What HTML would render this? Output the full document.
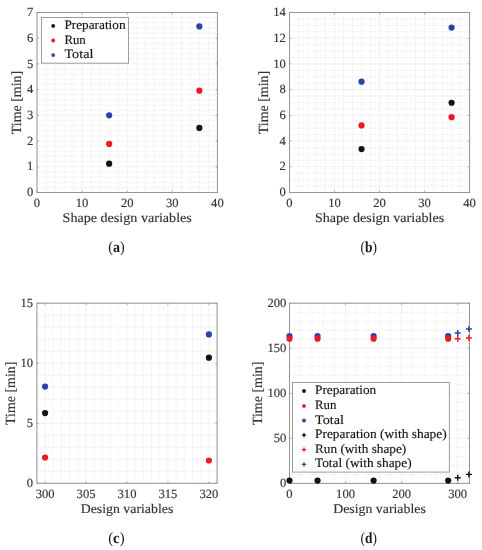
<!DOCTYPE html><html><head><meta charset="utf-8"><style>html,body{margin:0;padding:0;background:#fff;}svg{display:block;filter:blur(0.35px);}</style></head><body><svg width="482" height="550" viewBox="0 0 482 550" font-family='"Liberation Serif", "DejaVu Serif", serif'><style>text{stroke:currentColor;stroke-width:0.15px;text-rendering:geometricPrecision;}</style>
<rect width="482" height="550" fill="#fff"/>
<line x1="46.02" y1="12.5" x2="46.02" y2="192.5" stroke="#ececec" stroke-width="0.8" stroke-dasharray="1.2,0.8"/>
<line x1="55.04" y1="12.5" x2="55.04" y2="192.5" stroke="#ececec" stroke-width="0.8" stroke-dasharray="1.2,0.8"/>
<line x1="64.06" y1="12.5" x2="64.06" y2="192.5" stroke="#ececec" stroke-width="0.8" stroke-dasharray="1.2,0.8"/>
<line x1="73.08" y1="12.5" x2="73.08" y2="192.5" stroke="#ececec" stroke-width="0.8" stroke-dasharray="1.2,0.8"/>
<line x1="91.12" y1="12.5" x2="91.12" y2="192.5" stroke="#ececec" stroke-width="0.8" stroke-dasharray="1.2,0.8"/>
<line x1="100.14" y1="12.5" x2="100.14" y2="192.5" stroke="#ececec" stroke-width="0.8" stroke-dasharray="1.2,0.8"/>
<line x1="109.16" y1="12.5" x2="109.16" y2="192.5" stroke="#ececec" stroke-width="0.8" stroke-dasharray="1.2,0.8"/>
<line x1="118.18" y1="12.5" x2="118.18" y2="192.5" stroke="#ececec" stroke-width="0.8" stroke-dasharray="1.2,0.8"/>
<line x1="136.22" y1="12.5" x2="136.22" y2="192.5" stroke="#ececec" stroke-width="0.8" stroke-dasharray="1.2,0.8"/>
<line x1="145.24" y1="12.5" x2="145.24" y2="192.5" stroke="#ececec" stroke-width="0.8" stroke-dasharray="1.2,0.8"/>
<line x1="154.26" y1="12.5" x2="154.26" y2="192.5" stroke="#ececec" stroke-width="0.8" stroke-dasharray="1.2,0.8"/>
<line x1="163.28" y1="12.5" x2="163.28" y2="192.5" stroke="#ececec" stroke-width="0.8" stroke-dasharray="1.2,0.8"/>
<line x1="181.32" y1="12.5" x2="181.32" y2="192.5" stroke="#ececec" stroke-width="0.8" stroke-dasharray="1.2,0.8"/>
<line x1="190.34" y1="12.5" x2="190.34" y2="192.5" stroke="#ececec" stroke-width="0.8" stroke-dasharray="1.2,0.8"/>
<line x1="199.36" y1="12.5" x2="199.36" y2="192.5" stroke="#ececec" stroke-width="0.8" stroke-dasharray="1.2,0.8"/>
<line x1="208.38" y1="12.5" x2="208.38" y2="192.5" stroke="#ececec" stroke-width="0.8" stroke-dasharray="1.2,0.8"/>
<line x1="37" y1="187.36" x2="217.4" y2="187.36" stroke="#e2e2e2" stroke-width="0.8" stroke-dasharray="1,1.25"/>
<line x1="37" y1="182.21" x2="217.4" y2="182.21" stroke="#e2e2e2" stroke-width="0.8" stroke-dasharray="1,1.25"/>
<line x1="37" y1="177.07" x2="217.4" y2="177.07" stroke="#e2e2e2" stroke-width="0.8" stroke-dasharray="1,1.25"/>
<line x1="37" y1="171.93" x2="217.4" y2="171.93" stroke="#e2e2e2" stroke-width="0.8" stroke-dasharray="1,1.25"/>
<line x1="37" y1="161.64" x2="217.4" y2="161.64" stroke="#e2e2e2" stroke-width="0.8" stroke-dasharray="1,1.25"/>
<line x1="37" y1="156.50" x2="217.4" y2="156.50" stroke="#e2e2e2" stroke-width="0.8" stroke-dasharray="1,1.25"/>
<line x1="37" y1="151.36" x2="217.4" y2="151.36" stroke="#e2e2e2" stroke-width="0.8" stroke-dasharray="1,1.25"/>
<line x1="37" y1="146.21" x2="217.4" y2="146.21" stroke="#e2e2e2" stroke-width="0.8" stroke-dasharray="1,1.25"/>
<line x1="37" y1="135.93" x2="217.4" y2="135.93" stroke="#e2e2e2" stroke-width="0.8" stroke-dasharray="1,1.25"/>
<line x1="37" y1="130.79" x2="217.4" y2="130.79" stroke="#e2e2e2" stroke-width="0.8" stroke-dasharray="1,1.25"/>
<line x1="37" y1="125.64" x2="217.4" y2="125.64" stroke="#e2e2e2" stroke-width="0.8" stroke-dasharray="1,1.25"/>
<line x1="37" y1="120.50" x2="217.4" y2="120.50" stroke="#e2e2e2" stroke-width="0.8" stroke-dasharray="1,1.25"/>
<line x1="37" y1="110.21" x2="217.4" y2="110.21" stroke="#e2e2e2" stroke-width="0.8" stroke-dasharray="1,1.25"/>
<line x1="37" y1="105.07" x2="217.4" y2="105.07" stroke="#e2e2e2" stroke-width="0.8" stroke-dasharray="1,1.25"/>
<line x1="37" y1="99.93" x2="217.4" y2="99.93" stroke="#e2e2e2" stroke-width="0.8" stroke-dasharray="1,1.25"/>
<line x1="37" y1="94.79" x2="217.4" y2="94.79" stroke="#e2e2e2" stroke-width="0.8" stroke-dasharray="1,1.25"/>
<line x1="37" y1="84.50" x2="217.4" y2="84.50" stroke="#e2e2e2" stroke-width="0.8" stroke-dasharray="1,1.25"/>
<line x1="37" y1="79.36" x2="217.4" y2="79.36" stroke="#e2e2e2" stroke-width="0.8" stroke-dasharray="1,1.25"/>
<line x1="37" y1="74.21" x2="217.4" y2="74.21" stroke="#e2e2e2" stroke-width="0.8" stroke-dasharray="1,1.25"/>
<line x1="37" y1="69.07" x2="217.4" y2="69.07" stroke="#e2e2e2" stroke-width="0.8" stroke-dasharray="1,1.25"/>
<line x1="37" y1="58.79" x2="217.4" y2="58.79" stroke="#e2e2e2" stroke-width="0.8" stroke-dasharray="1,1.25"/>
<line x1="37" y1="53.64" x2="217.4" y2="53.64" stroke="#e2e2e2" stroke-width="0.8" stroke-dasharray="1,1.25"/>
<line x1="37" y1="48.50" x2="217.4" y2="48.50" stroke="#e2e2e2" stroke-width="0.8" stroke-dasharray="1,1.25"/>
<line x1="37" y1="43.36" x2="217.4" y2="43.36" stroke="#e2e2e2" stroke-width="0.8" stroke-dasharray="1,1.25"/>
<line x1="37" y1="33.07" x2="217.4" y2="33.07" stroke="#e2e2e2" stroke-width="0.8" stroke-dasharray="1,1.25"/>
<line x1="37" y1="27.93" x2="217.4" y2="27.93" stroke="#e2e2e2" stroke-width="0.8" stroke-dasharray="1,1.25"/>
<line x1="37" y1="22.79" x2="217.4" y2="22.79" stroke="#e2e2e2" stroke-width="0.8" stroke-dasharray="1,1.25"/>
<line x1="37" y1="17.64" x2="217.4" y2="17.64" stroke="#e2e2e2" stroke-width="0.8" stroke-dasharray="1,1.25"/>
<line x1="37.00" y1="12.5" x2="37.00" y2="192.5" stroke="#ededed" stroke-width="0.8"/>
<line x1="82.10" y1="12.5" x2="82.10" y2="192.5" stroke="#ededed" stroke-width="0.8"/>
<line x1="127.20" y1="12.5" x2="127.20" y2="192.5" stroke="#ededed" stroke-width="0.8"/>
<line x1="172.30" y1="12.5" x2="172.30" y2="192.5" stroke="#ededed" stroke-width="0.8"/>
<line x1="217.40" y1="12.5" x2="217.40" y2="192.5" stroke="#ededed" stroke-width="0.8"/>
<line x1="37" y1="192.50" x2="217.4" y2="192.50" stroke="#ededed" stroke-width="0.8"/>
<line x1="37" y1="166.79" x2="217.4" y2="166.79" stroke="#ededed" stroke-width="0.8"/>
<line x1="37" y1="141.07" x2="217.4" y2="141.07" stroke="#ededed" stroke-width="0.8"/>
<line x1="37" y1="115.36" x2="217.4" y2="115.36" stroke="#ededed" stroke-width="0.8"/>
<line x1="37" y1="89.64" x2="217.4" y2="89.64" stroke="#ededed" stroke-width="0.8"/>
<line x1="37" y1="63.93" x2="217.4" y2="63.93" stroke="#ededed" stroke-width="0.8"/>
<line x1="37" y1="38.21" x2="217.4" y2="38.21" stroke="#ededed" stroke-width="0.8"/>
<line x1="37" y1="12.50" x2="217.4" y2="12.50" stroke="#ededed" stroke-width="0.8"/>
<line x1="37.00" y1="192.5" x2="37.00" y2="190.7" stroke="#959595" stroke-width="0.8"/>
<line x1="37.00" y1="12.5" x2="37.00" y2="14.3" stroke="#959595" stroke-width="0.8"/>
<text x="37.00" y="206.70" text-anchor="middle" font-size="12.6" fill="#333333" color="#333333">0</text>
<line x1="82.10" y1="192.5" x2="82.10" y2="190.7" stroke="#959595" stroke-width="0.8"/>
<line x1="82.10" y1="12.5" x2="82.10" y2="14.3" stroke="#959595" stroke-width="0.8"/>
<text x="82.10" y="206.70" text-anchor="middle" font-size="12.6" fill="#333333" color="#333333">10</text>
<line x1="127.20" y1="192.5" x2="127.20" y2="190.7" stroke="#959595" stroke-width="0.8"/>
<line x1="127.20" y1="12.5" x2="127.20" y2="14.3" stroke="#959595" stroke-width="0.8"/>
<text x="127.20" y="206.70" text-anchor="middle" font-size="12.6" fill="#333333" color="#333333">20</text>
<line x1="172.30" y1="192.5" x2="172.30" y2="190.7" stroke="#959595" stroke-width="0.8"/>
<line x1="172.30" y1="12.5" x2="172.30" y2="14.3" stroke="#959595" stroke-width="0.8"/>
<text x="172.30" y="206.70" text-anchor="middle" font-size="12.6" fill="#333333" color="#333333">30</text>
<line x1="217.40" y1="192.5" x2="217.40" y2="190.7" stroke="#959595" stroke-width="0.8"/>
<line x1="217.40" y1="12.5" x2="217.40" y2="14.3" stroke="#959595" stroke-width="0.8"/>
<text x="217.40" y="206.70" text-anchor="middle" font-size="12.6" fill="#333333" color="#333333">40</text>
<line x1="37" y1="192.50" x2="38.8" y2="192.50" stroke="#959595" stroke-width="0.8"/>
<line x1="217.4" y1="192.50" x2="215.6" y2="192.50" stroke="#959595" stroke-width="0.8"/>
<text x="33.20" y="196.20" text-anchor="end" font-size="12.6" fill="#333333" color="#333333">0</text>
<line x1="37" y1="166.79" x2="38.8" y2="166.79" stroke="#959595" stroke-width="0.8"/>
<line x1="217.4" y1="166.79" x2="215.6" y2="166.79" stroke="#959595" stroke-width="0.8"/>
<text x="33.20" y="170.49" text-anchor="end" font-size="12.6" fill="#333333" color="#333333">1</text>
<line x1="37" y1="141.07" x2="38.8" y2="141.07" stroke="#959595" stroke-width="0.8"/>
<line x1="217.4" y1="141.07" x2="215.6" y2="141.07" stroke="#959595" stroke-width="0.8"/>
<text x="33.20" y="144.77" text-anchor="end" font-size="12.6" fill="#333333" color="#333333">2</text>
<line x1="37" y1="115.36" x2="38.8" y2="115.36" stroke="#959595" stroke-width="0.8"/>
<line x1="217.4" y1="115.36" x2="215.6" y2="115.36" stroke="#959595" stroke-width="0.8"/>
<text x="33.20" y="119.06" text-anchor="end" font-size="12.6" fill="#333333" color="#333333">3</text>
<line x1="37" y1="89.64" x2="38.8" y2="89.64" stroke="#959595" stroke-width="0.8"/>
<line x1="217.4" y1="89.64" x2="215.6" y2="89.64" stroke="#959595" stroke-width="0.8"/>
<text x="33.20" y="93.34" text-anchor="end" font-size="12.6" fill="#333333" color="#333333">4</text>
<line x1="37" y1="63.93" x2="38.8" y2="63.93" stroke="#959595" stroke-width="0.8"/>
<line x1="217.4" y1="63.93" x2="215.6" y2="63.93" stroke="#959595" stroke-width="0.8"/>
<text x="33.20" y="67.63" text-anchor="end" font-size="12.6" fill="#333333" color="#333333">5</text>
<line x1="37" y1="38.21" x2="38.8" y2="38.21" stroke="#959595" stroke-width="0.8"/>
<line x1="217.4" y1="38.21" x2="215.6" y2="38.21" stroke="#959595" stroke-width="0.8"/>
<text x="33.20" y="41.91" text-anchor="end" font-size="12.6" fill="#333333" color="#333333">6</text>
<line x1="37" y1="12.50" x2="38.8" y2="12.50" stroke="#959595" stroke-width="0.8"/>
<line x1="217.4" y1="12.50" x2="215.6" y2="12.50" stroke="#959595" stroke-width="0.8"/>
<text x="33.20" y="16.20" text-anchor="end" font-size="12.6" fill="#333333" color="#333333">7</text>
<rect x="37" y="12.5" width="180.40" height="180.00" fill="none" stroke="#959595" stroke-width="1"/>
<text x="127.20" y="222.20" text-anchor="middle" font-size="13.3" textLength="129.3" lengthAdjust="spacingAndGlyphs" fill="#333333" color="#333333">Shape design variables</text>
<text transform="translate(21.20,102.50) rotate(-90)" x="0" y="0" text-anchor="middle" font-size="14" textLength="63.5" lengthAdjust="spacingAndGlyphs" fill="#333333" color="#333333">Time [min]</text>
<circle cx="109.16" cy="115.36" r="3.1" fill="#2b43a7"/>
<circle cx="109.16" cy="143.90" r="3.1" fill="#ec1a22"/>
<circle cx="109.16" cy="163.70" r="3.1" fill="#121212"/>
<circle cx="199.36" cy="26.39" r="3.1" fill="#2b43a7"/>
<circle cx="199.36" cy="90.67" r="3.1" fill="#ec1a22"/>
<circle cx="199.36" cy="127.96" r="3.1" fill="#121212"/>
<rect x="41.5" y="17.5" width="87.00" height="45.70" fill="#fff" stroke="#9c9c9c" stroke-width="1"/>
<circle cx="53.20" cy="25.90" r="1.9" fill="#121212"/>
<text x="64.40" y="28.90" text-anchor="start" font-size="12.9" textLength="61.2" lengthAdjust="spacingAndGlyphs" fill="#161616" color="#161616">Preparation</text>
<circle cx="53.20" cy="40.50" r="1.9" fill="#ec1a22"/>
<text x="64.40" y="43.50" text-anchor="start" font-size="12.9" textLength="21.4" lengthAdjust="spacingAndGlyphs" fill="#161616" color="#161616">Run</text>
<circle cx="53.20" cy="55.10" r="1.9" fill="#2b43a7"/>
<text x="64.40" y="58.10" text-anchor="start" font-size="12.9" textLength="29" lengthAdjust="spacingAndGlyphs" fill="#161616" color="#161616">Total</text>
<line x1="298.50" y1="12.5" x2="298.50" y2="192.5" stroke="#ececec" stroke-width="0.8" stroke-dasharray="1.2,0.8"/>
<line x1="307.51" y1="12.5" x2="307.51" y2="192.5" stroke="#ececec" stroke-width="0.8" stroke-dasharray="1.2,0.8"/>
<line x1="316.51" y1="12.5" x2="316.51" y2="192.5" stroke="#ececec" stroke-width="0.8" stroke-dasharray="1.2,0.8"/>
<line x1="325.52" y1="12.5" x2="325.52" y2="192.5" stroke="#ececec" stroke-width="0.8" stroke-dasharray="1.2,0.8"/>
<line x1="343.53" y1="12.5" x2="343.53" y2="192.5" stroke="#ececec" stroke-width="0.8" stroke-dasharray="1.2,0.8"/>
<line x1="352.54" y1="12.5" x2="352.54" y2="192.5" stroke="#ececec" stroke-width="0.8" stroke-dasharray="1.2,0.8"/>
<line x1="361.54" y1="12.5" x2="361.54" y2="192.5" stroke="#ececec" stroke-width="0.8" stroke-dasharray="1.2,0.8"/>
<line x1="370.55" y1="12.5" x2="370.55" y2="192.5" stroke="#ececec" stroke-width="0.8" stroke-dasharray="1.2,0.8"/>
<line x1="388.56" y1="12.5" x2="388.56" y2="192.5" stroke="#ececec" stroke-width="0.8" stroke-dasharray="1.2,0.8"/>
<line x1="397.56" y1="12.5" x2="397.56" y2="192.5" stroke="#ececec" stroke-width="0.8" stroke-dasharray="1.2,0.8"/>
<line x1="406.56" y1="12.5" x2="406.56" y2="192.5" stroke="#ececec" stroke-width="0.8" stroke-dasharray="1.2,0.8"/>
<line x1="415.57" y1="12.5" x2="415.57" y2="192.5" stroke="#ececec" stroke-width="0.8" stroke-dasharray="1.2,0.8"/>
<line x1="433.58" y1="12.5" x2="433.58" y2="192.5" stroke="#ececec" stroke-width="0.8" stroke-dasharray="1.2,0.8"/>
<line x1="442.59" y1="12.5" x2="442.59" y2="192.5" stroke="#ececec" stroke-width="0.8" stroke-dasharray="1.2,0.8"/>
<line x1="451.59" y1="12.5" x2="451.59" y2="192.5" stroke="#ececec" stroke-width="0.8" stroke-dasharray="1.2,0.8"/>
<line x1="460.60" y1="12.5" x2="460.60" y2="192.5" stroke="#ececec" stroke-width="0.8" stroke-dasharray="1.2,0.8"/>
<line x1="289.5" y1="186.07" x2="469.6" y2="186.07" stroke="#e2e2e2" stroke-width="0.8" stroke-dasharray="1,1.25"/>
<line x1="289.5" y1="179.64" x2="469.6" y2="179.64" stroke="#e2e2e2" stroke-width="0.8" stroke-dasharray="1,1.25"/>
<line x1="289.5" y1="173.21" x2="469.6" y2="173.21" stroke="#e2e2e2" stroke-width="0.8" stroke-dasharray="1,1.25"/>
<line x1="289.5" y1="160.36" x2="469.6" y2="160.36" stroke="#e2e2e2" stroke-width="0.8" stroke-dasharray="1,1.25"/>
<line x1="289.5" y1="153.93" x2="469.6" y2="153.93" stroke="#e2e2e2" stroke-width="0.8" stroke-dasharray="1,1.25"/>
<line x1="289.5" y1="147.50" x2="469.6" y2="147.50" stroke="#e2e2e2" stroke-width="0.8" stroke-dasharray="1,1.25"/>
<line x1="289.5" y1="134.64" x2="469.6" y2="134.64" stroke="#e2e2e2" stroke-width="0.8" stroke-dasharray="1,1.25"/>
<line x1="289.5" y1="128.21" x2="469.6" y2="128.21" stroke="#e2e2e2" stroke-width="0.8" stroke-dasharray="1,1.25"/>
<line x1="289.5" y1="121.79" x2="469.6" y2="121.79" stroke="#e2e2e2" stroke-width="0.8" stroke-dasharray="1,1.25"/>
<line x1="289.5" y1="108.93" x2="469.6" y2="108.93" stroke="#e2e2e2" stroke-width="0.8" stroke-dasharray="1,1.25"/>
<line x1="289.5" y1="102.50" x2="469.6" y2="102.50" stroke="#e2e2e2" stroke-width="0.8" stroke-dasharray="1,1.25"/>
<line x1="289.5" y1="96.07" x2="469.6" y2="96.07" stroke="#e2e2e2" stroke-width="0.8" stroke-dasharray="1,1.25"/>
<line x1="289.5" y1="83.21" x2="469.6" y2="83.21" stroke="#e2e2e2" stroke-width="0.8" stroke-dasharray="1,1.25"/>
<line x1="289.5" y1="76.79" x2="469.6" y2="76.79" stroke="#e2e2e2" stroke-width="0.8" stroke-dasharray="1,1.25"/>
<line x1="289.5" y1="70.36" x2="469.6" y2="70.36" stroke="#e2e2e2" stroke-width="0.8" stroke-dasharray="1,1.25"/>
<line x1="289.5" y1="57.50" x2="469.6" y2="57.50" stroke="#e2e2e2" stroke-width="0.8" stroke-dasharray="1,1.25"/>
<line x1="289.5" y1="51.07" x2="469.6" y2="51.07" stroke="#e2e2e2" stroke-width="0.8" stroke-dasharray="1,1.25"/>
<line x1="289.5" y1="44.64" x2="469.6" y2="44.64" stroke="#e2e2e2" stroke-width="0.8" stroke-dasharray="1,1.25"/>
<line x1="289.5" y1="31.79" x2="469.6" y2="31.79" stroke="#e2e2e2" stroke-width="0.8" stroke-dasharray="1,1.25"/>
<line x1="289.5" y1="25.36" x2="469.6" y2="25.36" stroke="#e2e2e2" stroke-width="0.8" stroke-dasharray="1,1.25"/>
<line x1="289.5" y1="18.93" x2="469.6" y2="18.93" stroke="#e2e2e2" stroke-width="0.8" stroke-dasharray="1,1.25"/>
<line x1="289.50" y1="12.5" x2="289.50" y2="192.5" stroke="#ededed" stroke-width="0.8"/>
<line x1="334.52" y1="12.5" x2="334.52" y2="192.5" stroke="#ededed" stroke-width="0.8"/>
<line x1="379.55" y1="12.5" x2="379.55" y2="192.5" stroke="#ededed" stroke-width="0.8"/>
<line x1="424.58" y1="12.5" x2="424.58" y2="192.5" stroke="#ededed" stroke-width="0.8"/>
<line x1="469.60" y1="12.5" x2="469.60" y2="192.5" stroke="#ededed" stroke-width="0.8"/>
<line x1="289.5" y1="192.50" x2="469.6" y2="192.50" stroke="#ededed" stroke-width="0.8"/>
<line x1="289.5" y1="166.79" x2="469.6" y2="166.79" stroke="#ededed" stroke-width="0.8"/>
<line x1="289.5" y1="141.07" x2="469.6" y2="141.07" stroke="#ededed" stroke-width="0.8"/>
<line x1="289.5" y1="115.36" x2="469.6" y2="115.36" stroke="#ededed" stroke-width="0.8"/>
<line x1="289.5" y1="89.64" x2="469.6" y2="89.64" stroke="#ededed" stroke-width="0.8"/>
<line x1="289.5" y1="63.93" x2="469.6" y2="63.93" stroke="#ededed" stroke-width="0.8"/>
<line x1="289.5" y1="38.21" x2="469.6" y2="38.21" stroke="#ededed" stroke-width="0.8"/>
<line x1="289.5" y1="12.50" x2="469.6" y2="12.50" stroke="#ededed" stroke-width="0.8"/>
<line x1="289.50" y1="192.5" x2="289.50" y2="190.7" stroke="#959595" stroke-width="0.8"/>
<line x1="289.50" y1="12.5" x2="289.50" y2="14.3" stroke="#959595" stroke-width="0.8"/>
<text x="289.50" y="206.70" text-anchor="middle" font-size="12.6" fill="#333333" color="#333333">0</text>
<line x1="334.52" y1="192.5" x2="334.52" y2="190.7" stroke="#959595" stroke-width="0.8"/>
<line x1="334.52" y1="12.5" x2="334.52" y2="14.3" stroke="#959595" stroke-width="0.8"/>
<text x="334.52" y="206.70" text-anchor="middle" font-size="12.6" fill="#333333" color="#333333">10</text>
<line x1="379.55" y1="192.5" x2="379.55" y2="190.7" stroke="#959595" stroke-width="0.8"/>
<line x1="379.55" y1="12.5" x2="379.55" y2="14.3" stroke="#959595" stroke-width="0.8"/>
<text x="379.55" y="206.70" text-anchor="middle" font-size="12.6" fill="#333333" color="#333333">20</text>
<line x1="424.58" y1="192.5" x2="424.58" y2="190.7" stroke="#959595" stroke-width="0.8"/>
<line x1="424.58" y1="12.5" x2="424.58" y2="14.3" stroke="#959595" stroke-width="0.8"/>
<text x="424.58" y="206.70" text-anchor="middle" font-size="12.6" fill="#333333" color="#333333">30</text>
<line x1="469.60" y1="192.5" x2="469.60" y2="190.7" stroke="#959595" stroke-width="0.8"/>
<line x1="469.60" y1="12.5" x2="469.60" y2="14.3" stroke="#959595" stroke-width="0.8"/>
<text x="469.60" y="206.70" text-anchor="middle" font-size="12.6" fill="#333333" color="#333333">40</text>
<line x1="289.5" y1="192.50" x2="291.3" y2="192.50" stroke="#959595" stroke-width="0.8"/>
<line x1="469.6" y1="192.50" x2="467.8" y2="192.50" stroke="#959595" stroke-width="0.8"/>
<text x="285.80" y="196.20" text-anchor="end" font-size="12.6" fill="#333333" color="#333333">0</text>
<line x1="289.5" y1="166.79" x2="291.3" y2="166.79" stroke="#959595" stroke-width="0.8"/>
<line x1="469.6" y1="166.79" x2="467.8" y2="166.79" stroke="#959595" stroke-width="0.8"/>
<text x="285.80" y="170.49" text-anchor="end" font-size="12.6" fill="#333333" color="#333333">2</text>
<line x1="289.5" y1="141.07" x2="291.3" y2="141.07" stroke="#959595" stroke-width="0.8"/>
<line x1="469.6" y1="141.07" x2="467.8" y2="141.07" stroke="#959595" stroke-width="0.8"/>
<text x="285.80" y="144.77" text-anchor="end" font-size="12.6" fill="#333333" color="#333333">4</text>
<line x1="289.5" y1="115.36" x2="291.3" y2="115.36" stroke="#959595" stroke-width="0.8"/>
<line x1="469.6" y1="115.36" x2="467.8" y2="115.36" stroke="#959595" stroke-width="0.8"/>
<text x="285.80" y="119.06" text-anchor="end" font-size="12.6" fill="#333333" color="#333333">6</text>
<line x1="289.5" y1="89.64" x2="291.3" y2="89.64" stroke="#959595" stroke-width="0.8"/>
<line x1="469.6" y1="89.64" x2="467.8" y2="89.64" stroke="#959595" stroke-width="0.8"/>
<text x="285.80" y="93.34" text-anchor="end" font-size="12.6" fill="#333333" color="#333333">8</text>
<line x1="289.5" y1="63.93" x2="291.3" y2="63.93" stroke="#959595" stroke-width="0.8"/>
<line x1="469.6" y1="63.93" x2="467.8" y2="63.93" stroke="#959595" stroke-width="0.8"/>
<text x="285.80" y="67.63" text-anchor="end" font-size="12.6" fill="#333333" color="#333333">10</text>
<line x1="289.5" y1="38.21" x2="291.3" y2="38.21" stroke="#959595" stroke-width="0.8"/>
<line x1="469.6" y1="38.21" x2="467.8" y2="38.21" stroke="#959595" stroke-width="0.8"/>
<text x="285.80" y="41.91" text-anchor="end" font-size="12.6" fill="#333333" color="#333333">12</text>
<line x1="289.5" y1="12.50" x2="291.3" y2="12.50" stroke="#959595" stroke-width="0.8"/>
<line x1="469.6" y1="12.50" x2="467.8" y2="12.50" stroke="#959595" stroke-width="0.8"/>
<text x="285.80" y="16.20" text-anchor="end" font-size="12.6" fill="#333333" color="#333333">14</text>
<rect x="289.5" y="12.5" width="180.10" height="180.00" fill="none" stroke="#959595" stroke-width="1"/>
<text x="379.55" y="222.20" text-anchor="middle" font-size="13.3" textLength="129.3" lengthAdjust="spacingAndGlyphs" fill="#333333" color="#333333">Shape design variables</text>
<text transform="translate(267.90,102.50) rotate(-90)" x="0" y="0" text-anchor="middle" font-size="14" textLength="63.5" lengthAdjust="spacingAndGlyphs" fill="#333333" color="#333333">Time [min]</text>
<circle cx="361.54" cy="81.67" r="3.1" fill="#2b43a7"/>
<circle cx="361.54" cy="125.39" r="3.1" fill="#ec1a22"/>
<circle cx="361.54" cy="149.04" r="3.1" fill="#121212"/>
<circle cx="451.59" cy="27.54" r="3.1" fill="#2b43a7"/>
<circle cx="451.59" cy="117.16" r="3.1" fill="#ec1a22"/>
<circle cx="451.59" cy="102.76" r="3.1" fill="#121212"/>
<line x1="36.90" y1="303.2" x2="36.90" y2="483.3" stroke="#ececec" stroke-width="0.8" stroke-dasharray="1.2,0.8"/>
<line x1="53.28" y1="303.2" x2="53.28" y2="483.3" stroke="#ececec" stroke-width="0.8" stroke-dasharray="1.2,0.8"/>
<line x1="61.47" y1="303.2" x2="61.47" y2="483.3" stroke="#ececec" stroke-width="0.8" stroke-dasharray="1.2,0.8"/>
<line x1="69.66" y1="303.2" x2="69.66" y2="483.3" stroke="#ececec" stroke-width="0.8" stroke-dasharray="1.2,0.8"/>
<line x1="77.85" y1="303.2" x2="77.85" y2="483.3" stroke="#ececec" stroke-width="0.8" stroke-dasharray="1.2,0.8"/>
<line x1="94.24" y1="303.2" x2="94.24" y2="483.3" stroke="#ececec" stroke-width="0.8" stroke-dasharray="1.2,0.8"/>
<line x1="102.43" y1="303.2" x2="102.43" y2="483.3" stroke="#ececec" stroke-width="0.8" stroke-dasharray="1.2,0.8"/>
<line x1="110.62" y1="303.2" x2="110.62" y2="483.3" stroke="#ececec" stroke-width="0.8" stroke-dasharray="1.2,0.8"/>
<line x1="118.81" y1="303.2" x2="118.81" y2="483.3" stroke="#ececec" stroke-width="0.8" stroke-dasharray="1.2,0.8"/>
<line x1="135.19" y1="303.2" x2="135.19" y2="483.3" stroke="#ececec" stroke-width="0.8" stroke-dasharray="1.2,0.8"/>
<line x1="143.38" y1="303.2" x2="143.38" y2="483.3" stroke="#ececec" stroke-width="0.8" stroke-dasharray="1.2,0.8"/>
<line x1="151.57" y1="303.2" x2="151.57" y2="483.3" stroke="#ececec" stroke-width="0.8" stroke-dasharray="1.2,0.8"/>
<line x1="159.76" y1="303.2" x2="159.76" y2="483.3" stroke="#ececec" stroke-width="0.8" stroke-dasharray="1.2,0.8"/>
<line x1="176.15" y1="303.2" x2="176.15" y2="483.3" stroke="#ececec" stroke-width="0.8" stroke-dasharray="1.2,0.8"/>
<line x1="184.34" y1="303.2" x2="184.34" y2="483.3" stroke="#ececec" stroke-width="0.8" stroke-dasharray="1.2,0.8"/>
<line x1="192.53" y1="303.2" x2="192.53" y2="483.3" stroke="#ececec" stroke-width="0.8" stroke-dasharray="1.2,0.8"/>
<line x1="200.72" y1="303.2" x2="200.72" y2="483.3" stroke="#ececec" stroke-width="0.8" stroke-dasharray="1.2,0.8"/>
<line x1="217.10" y1="303.2" x2="217.10" y2="483.3" stroke="#ececec" stroke-width="0.8" stroke-dasharray="1.2,0.8"/>
<line x1="36.9" y1="471.29" x2="217.1" y2="471.29" stroke="#e2e2e2" stroke-width="0.8" stroke-dasharray="1,1.25"/>
<line x1="36.9" y1="459.29" x2="217.1" y2="459.29" stroke="#e2e2e2" stroke-width="0.8" stroke-dasharray="1,1.25"/>
<line x1="36.9" y1="447.28" x2="217.1" y2="447.28" stroke="#e2e2e2" stroke-width="0.8" stroke-dasharray="1,1.25"/>
<line x1="36.9" y1="435.27" x2="217.1" y2="435.27" stroke="#e2e2e2" stroke-width="0.8" stroke-dasharray="1,1.25"/>
<line x1="36.9" y1="411.26" x2="217.1" y2="411.26" stroke="#e2e2e2" stroke-width="0.8" stroke-dasharray="1,1.25"/>
<line x1="36.9" y1="399.25" x2="217.1" y2="399.25" stroke="#e2e2e2" stroke-width="0.8" stroke-dasharray="1,1.25"/>
<line x1="36.9" y1="387.25" x2="217.1" y2="387.25" stroke="#e2e2e2" stroke-width="0.8" stroke-dasharray="1,1.25"/>
<line x1="36.9" y1="375.24" x2="217.1" y2="375.24" stroke="#e2e2e2" stroke-width="0.8" stroke-dasharray="1,1.25"/>
<line x1="36.9" y1="351.23" x2="217.1" y2="351.23" stroke="#e2e2e2" stroke-width="0.8" stroke-dasharray="1,1.25"/>
<line x1="36.9" y1="339.22" x2="217.1" y2="339.22" stroke="#e2e2e2" stroke-width="0.8" stroke-dasharray="1,1.25"/>
<line x1="36.9" y1="327.21" x2="217.1" y2="327.21" stroke="#e2e2e2" stroke-width="0.8" stroke-dasharray="1,1.25"/>
<line x1="36.9" y1="315.21" x2="217.1" y2="315.21" stroke="#e2e2e2" stroke-width="0.8" stroke-dasharray="1,1.25"/>
<line x1="45.09" y1="303.2" x2="45.09" y2="483.3" stroke="#ededed" stroke-width="0.8"/>
<line x1="86.05" y1="303.2" x2="86.05" y2="483.3" stroke="#ededed" stroke-width="0.8"/>
<line x1="127.00" y1="303.2" x2="127.00" y2="483.3" stroke="#ededed" stroke-width="0.8"/>
<line x1="167.95" y1="303.2" x2="167.95" y2="483.3" stroke="#ededed" stroke-width="0.8"/>
<line x1="208.91" y1="303.2" x2="208.91" y2="483.3" stroke="#ededed" stroke-width="0.8"/>
<line x1="36.9" y1="483.30" x2="217.1" y2="483.30" stroke="#ededed" stroke-width="0.8"/>
<line x1="36.9" y1="423.27" x2="217.1" y2="423.27" stroke="#ededed" stroke-width="0.8"/>
<line x1="36.9" y1="363.23" x2="217.1" y2="363.23" stroke="#ededed" stroke-width="0.8"/>
<line x1="36.9" y1="303.20" x2="217.1" y2="303.20" stroke="#ededed" stroke-width="0.8"/>
<line x1="45.09" y1="483.3" x2="45.09" y2="481.5" stroke="#959595" stroke-width="0.8"/>
<line x1="45.09" y1="303.2" x2="45.09" y2="305.0" stroke="#959595" stroke-width="0.8"/>
<text x="45.09" y="497.50" text-anchor="middle" font-size="12.6" fill="#333333" color="#333333">300</text>
<line x1="86.05" y1="483.3" x2="86.05" y2="481.5" stroke="#959595" stroke-width="0.8"/>
<line x1="86.05" y1="303.2" x2="86.05" y2="305.0" stroke="#959595" stroke-width="0.8"/>
<text x="86.05" y="497.50" text-anchor="middle" font-size="12.6" fill="#333333" color="#333333">305</text>
<line x1="127.00" y1="483.3" x2="127.00" y2="481.5" stroke="#959595" stroke-width="0.8"/>
<line x1="127.00" y1="303.2" x2="127.00" y2="305.0" stroke="#959595" stroke-width="0.8"/>
<text x="127.00" y="497.50" text-anchor="middle" font-size="12.6" fill="#333333" color="#333333">310</text>
<line x1="167.95" y1="483.3" x2="167.95" y2="481.5" stroke="#959595" stroke-width="0.8"/>
<line x1="167.95" y1="303.2" x2="167.95" y2="305.0" stroke="#959595" stroke-width="0.8"/>
<text x="167.95" y="497.50" text-anchor="middle" font-size="12.6" fill="#333333" color="#333333">315</text>
<line x1="208.91" y1="483.3" x2="208.91" y2="481.5" stroke="#959595" stroke-width="0.8"/>
<line x1="208.91" y1="303.2" x2="208.91" y2="305.0" stroke="#959595" stroke-width="0.8"/>
<text x="208.91" y="497.50" text-anchor="middle" font-size="12.6" fill="#333333" color="#333333">320</text>
<line x1="36.9" y1="483.30" x2="38.699999999999996" y2="483.30" stroke="#959595" stroke-width="0.8"/>
<line x1="217.1" y1="483.30" x2="215.29999999999998" y2="483.30" stroke="#959595" stroke-width="0.8"/>
<text x="33.10" y="487.00" text-anchor="end" font-size="12.6" fill="#333333" color="#333333">0</text>
<line x1="36.9" y1="423.27" x2="38.699999999999996" y2="423.27" stroke="#959595" stroke-width="0.8"/>
<line x1="217.1" y1="423.27" x2="215.29999999999998" y2="423.27" stroke="#959595" stroke-width="0.8"/>
<text x="33.10" y="426.97" text-anchor="end" font-size="12.6" fill="#333333" color="#333333">5</text>
<line x1="36.9" y1="363.23" x2="38.699999999999996" y2="363.23" stroke="#959595" stroke-width="0.8"/>
<line x1="217.1" y1="363.23" x2="215.29999999999998" y2="363.23" stroke="#959595" stroke-width="0.8"/>
<text x="33.10" y="366.93" text-anchor="end" font-size="12.6" fill="#333333" color="#333333">10</text>
<line x1="36.9" y1="303.20" x2="38.699999999999996" y2="303.20" stroke="#959595" stroke-width="0.8"/>
<line x1="217.1" y1="303.20" x2="215.29999999999998" y2="303.20" stroke="#959595" stroke-width="0.8"/>
<text x="33.10" y="306.90" text-anchor="end" font-size="12.6" fill="#333333" color="#333333">15</text>
<rect x="36.9" y="303.2" width="180.20" height="180.10" fill="none" stroke="#959595" stroke-width="1"/>
<text x="127.00" y="513.00" text-anchor="middle" font-size="13.3" textLength="92.6" lengthAdjust="spacingAndGlyphs" fill="#333333" color="#333333">Design variables</text>
<text transform="translate(15.20,393.25) rotate(-90)" x="0" y="0" text-anchor="middle" font-size="14" textLength="63.5" lengthAdjust="spacingAndGlyphs" fill="#333333" color="#333333">Time [min]</text>
<circle cx="45.09" cy="386.53" r="3.1" fill="#2b43a7"/>
<circle cx="45.09" cy="457.49" r="3.1" fill="#ec1a22"/>
<circle cx="45.09" cy="413.06" r="3.1" fill="#121212"/>
<circle cx="208.91" cy="334.42" r="3.1" fill="#2b43a7"/>
<circle cx="208.91" cy="460.49" r="3.1" fill="#ec1a22"/>
<circle cx="208.91" cy="357.71" r="3.1" fill="#121212"/>
<line x1="300.71" y1="303.2" x2="300.71" y2="483.4" stroke="#ececec" stroke-width="0.8" stroke-dasharray="1.2,0.8"/>
<line x1="311.93" y1="303.2" x2="311.93" y2="483.4" stroke="#ececec" stroke-width="0.8" stroke-dasharray="1.2,0.8"/>
<line x1="323.14" y1="303.2" x2="323.14" y2="483.4" stroke="#ececec" stroke-width="0.8" stroke-dasharray="1.2,0.8"/>
<line x1="334.36" y1="303.2" x2="334.36" y2="483.4" stroke="#ececec" stroke-width="0.8" stroke-dasharray="1.2,0.8"/>
<line x1="356.79" y1="303.2" x2="356.79" y2="483.4" stroke="#ececec" stroke-width="0.8" stroke-dasharray="1.2,0.8"/>
<line x1="368.00" y1="303.2" x2="368.00" y2="483.4" stroke="#ececec" stroke-width="0.8" stroke-dasharray="1.2,0.8"/>
<line x1="379.22" y1="303.2" x2="379.22" y2="483.4" stroke="#ececec" stroke-width="0.8" stroke-dasharray="1.2,0.8"/>
<line x1="390.43" y1="303.2" x2="390.43" y2="483.4" stroke="#ececec" stroke-width="0.8" stroke-dasharray="1.2,0.8"/>
<line x1="412.86" y1="303.2" x2="412.86" y2="483.4" stroke="#ececec" stroke-width="0.8" stroke-dasharray="1.2,0.8"/>
<line x1="424.08" y1="303.2" x2="424.08" y2="483.4" stroke="#ececec" stroke-width="0.8" stroke-dasharray="1.2,0.8"/>
<line x1="435.29" y1="303.2" x2="435.29" y2="483.4" stroke="#ececec" stroke-width="0.8" stroke-dasharray="1.2,0.8"/>
<line x1="446.51" y1="303.2" x2="446.51" y2="483.4" stroke="#ececec" stroke-width="0.8" stroke-dasharray="1.2,0.8"/>
<line x1="468.94" y1="303.2" x2="468.94" y2="483.4" stroke="#ececec" stroke-width="0.8" stroke-dasharray="1.2,0.8"/>
<line x1="289.5" y1="474.39" x2="469.5" y2="474.39" stroke="#e2e2e2" stroke-width="0.8" stroke-dasharray="1,1.25"/>
<line x1="289.5" y1="465.38" x2="469.5" y2="465.38" stroke="#e2e2e2" stroke-width="0.8" stroke-dasharray="1,1.25"/>
<line x1="289.5" y1="456.37" x2="469.5" y2="456.37" stroke="#e2e2e2" stroke-width="0.8" stroke-dasharray="1,1.25"/>
<line x1="289.5" y1="447.36" x2="469.5" y2="447.36" stroke="#e2e2e2" stroke-width="0.8" stroke-dasharray="1,1.25"/>
<line x1="289.5" y1="429.34" x2="469.5" y2="429.34" stroke="#e2e2e2" stroke-width="0.8" stroke-dasharray="1,1.25"/>
<line x1="289.5" y1="420.33" x2="469.5" y2="420.33" stroke="#e2e2e2" stroke-width="0.8" stroke-dasharray="1,1.25"/>
<line x1="289.5" y1="411.32" x2="469.5" y2="411.32" stroke="#e2e2e2" stroke-width="0.8" stroke-dasharray="1,1.25"/>
<line x1="289.5" y1="402.31" x2="469.5" y2="402.31" stroke="#e2e2e2" stroke-width="0.8" stroke-dasharray="1,1.25"/>
<line x1="289.5" y1="384.29" x2="469.5" y2="384.29" stroke="#e2e2e2" stroke-width="0.8" stroke-dasharray="1,1.25"/>
<line x1="289.5" y1="375.28" x2="469.5" y2="375.28" stroke="#e2e2e2" stroke-width="0.8" stroke-dasharray="1,1.25"/>
<line x1="289.5" y1="366.27" x2="469.5" y2="366.27" stroke="#e2e2e2" stroke-width="0.8" stroke-dasharray="1,1.25"/>
<line x1="289.5" y1="357.26" x2="469.5" y2="357.26" stroke="#e2e2e2" stroke-width="0.8" stroke-dasharray="1,1.25"/>
<line x1="289.5" y1="339.24" x2="469.5" y2="339.24" stroke="#e2e2e2" stroke-width="0.8" stroke-dasharray="1,1.25"/>
<line x1="289.5" y1="330.23" x2="469.5" y2="330.23" stroke="#e2e2e2" stroke-width="0.8" stroke-dasharray="1,1.25"/>
<line x1="289.5" y1="321.22" x2="469.5" y2="321.22" stroke="#e2e2e2" stroke-width="0.8" stroke-dasharray="1,1.25"/>
<line x1="289.5" y1="312.21" x2="469.5" y2="312.21" stroke="#e2e2e2" stroke-width="0.8" stroke-dasharray="1,1.25"/>
<line x1="289.50" y1="303.2" x2="289.50" y2="483.4" stroke="#ededed" stroke-width="0.8"/>
<line x1="345.57" y1="303.2" x2="345.57" y2="483.4" stroke="#ededed" stroke-width="0.8"/>
<line x1="401.65" y1="303.2" x2="401.65" y2="483.4" stroke="#ededed" stroke-width="0.8"/>
<line x1="457.72" y1="303.2" x2="457.72" y2="483.4" stroke="#ededed" stroke-width="0.8"/>
<line x1="289.5" y1="483.40" x2="469.5" y2="483.40" stroke="#ededed" stroke-width="0.8"/>
<line x1="289.5" y1="438.35" x2="469.5" y2="438.35" stroke="#ededed" stroke-width="0.8"/>
<line x1="289.5" y1="393.30" x2="469.5" y2="393.30" stroke="#ededed" stroke-width="0.8"/>
<line x1="289.5" y1="348.25" x2="469.5" y2="348.25" stroke="#ededed" stroke-width="0.8"/>
<line x1="289.5" y1="303.20" x2="469.5" y2="303.20" stroke="#ededed" stroke-width="0.8"/>
<line x1="289.50" y1="483.4" x2="289.50" y2="481.59999999999997" stroke="#959595" stroke-width="0.8"/>
<line x1="289.50" y1="303.2" x2="289.50" y2="305.0" stroke="#959595" stroke-width="0.8"/>
<text x="289.50" y="497.60" text-anchor="middle" font-size="12.6" fill="#333333" color="#333333">0</text>
<line x1="345.57" y1="483.4" x2="345.57" y2="481.59999999999997" stroke="#959595" stroke-width="0.8"/>
<line x1="345.57" y1="303.2" x2="345.57" y2="305.0" stroke="#959595" stroke-width="0.8"/>
<text x="345.57" y="497.60" text-anchor="middle" font-size="12.6" fill="#333333" color="#333333">100</text>
<line x1="401.65" y1="483.4" x2="401.65" y2="481.59999999999997" stroke="#959595" stroke-width="0.8"/>
<line x1="401.65" y1="303.2" x2="401.65" y2="305.0" stroke="#959595" stroke-width="0.8"/>
<text x="401.65" y="497.60" text-anchor="middle" font-size="12.6" fill="#333333" color="#333333">200</text>
<line x1="457.72" y1="483.4" x2="457.72" y2="481.59999999999997" stroke="#959595" stroke-width="0.8"/>
<line x1="457.72" y1="303.2" x2="457.72" y2="305.0" stroke="#959595" stroke-width="0.8"/>
<text x="457.72" y="497.60" text-anchor="middle" font-size="12.6" fill="#333333" color="#333333">300</text>
<line x1="289.5" y1="483.40" x2="291.3" y2="483.40" stroke="#959595" stroke-width="0.8"/>
<line x1="469.5" y1="483.40" x2="467.7" y2="483.40" stroke="#959595" stroke-width="0.8"/>
<text x="286.30" y="487.10" text-anchor="end" font-size="12.6" fill="#333333" color="#333333">0</text>
<line x1="289.5" y1="438.35" x2="291.3" y2="438.35" stroke="#959595" stroke-width="0.8"/>
<line x1="469.5" y1="438.35" x2="467.7" y2="438.35" stroke="#959595" stroke-width="0.8"/>
<text x="286.30" y="442.05" text-anchor="end" font-size="12.6" fill="#333333" color="#333333">50</text>
<line x1="289.5" y1="393.30" x2="291.3" y2="393.30" stroke="#959595" stroke-width="0.8"/>
<line x1="469.5" y1="393.30" x2="467.7" y2="393.30" stroke="#959595" stroke-width="0.8"/>
<text x="286.30" y="397.00" text-anchor="end" font-size="12.6" fill="#333333" color="#333333">100</text>
<line x1="289.5" y1="348.25" x2="291.3" y2="348.25" stroke="#959595" stroke-width="0.8"/>
<line x1="469.5" y1="348.25" x2="467.7" y2="348.25" stroke="#959595" stroke-width="0.8"/>
<text x="286.30" y="351.95" text-anchor="end" font-size="12.6" fill="#333333" color="#333333">150</text>
<line x1="289.5" y1="303.20" x2="291.3" y2="303.20" stroke="#959595" stroke-width="0.8"/>
<line x1="469.5" y1="303.20" x2="467.7" y2="303.20" stroke="#959595" stroke-width="0.8"/>
<text x="286.30" y="306.90" text-anchor="end" font-size="12.6" fill="#333333" color="#333333">200</text>
<rect x="289.5" y="303.2" width="180.00" height="180.20" fill="none" stroke="#959595" stroke-width="1"/>
<text x="379.50" y="513.10" text-anchor="middle" font-size="13.3" textLength="92.6" lengthAdjust="spacingAndGlyphs" fill="#333333" color="#333333">Design variables</text>
<text transform="translate(262.00,393.30) rotate(-90)" x="0" y="0" text-anchor="middle" font-size="14" textLength="63.5" lengthAdjust="spacingAndGlyphs" fill="#333333" color="#333333">Time [min]</text>
<circle cx="289.50" cy="336.09" r="3.1" fill="#2b43a7"/>
<circle cx="289.50" cy="338.70" r="3.1" fill="#ec1a22"/>
<circle cx="289.50" cy="480.61" r="3.1" fill="#121212"/>
<circle cx="317.54" cy="336.09" r="3.1" fill="#2b43a7"/>
<circle cx="317.54" cy="338.70" r="3.1" fill="#ec1a22"/>
<circle cx="317.54" cy="480.61" r="3.1" fill="#121212"/>
<circle cx="373.61" cy="336.09" r="3.1" fill="#2b43a7"/>
<circle cx="373.61" cy="338.70" r="3.1" fill="#ec1a22"/>
<circle cx="373.61" cy="480.61" r="3.1" fill="#121212"/>
<circle cx="448.19" cy="336.09" r="3.1" fill="#2b43a7"/>
<circle cx="448.19" cy="338.70" r="3.1" fill="#ec1a22"/>
<circle cx="448.19" cy="480.61" r="3.1" fill="#121212"/>
<path d="M454.72 332.93H460.72M457.72 329.93V335.93" stroke="#2b43a7" stroke-width="1.45" fill="none"/>
<path d="M454.72 338.70H460.72M457.72 335.70V341.70" stroke="#ec1a22" stroke-width="1.45" fill="none"/>
<path d="M454.72 477.72H460.72M457.72 474.72V480.72" stroke="#121212" stroke-width="1.45" fill="none"/>
<path d="M465.94 329.06H471.94M468.94 326.06V332.06" stroke="#2b43a7" stroke-width="1.45" fill="none"/>
<path d="M465.94 337.98H471.94M468.94 334.98V340.98" stroke="#ec1a22" stroke-width="1.45" fill="none"/>
<path d="M465.94 474.39H471.94M468.94 471.39V477.39" stroke="#121212" stroke-width="1.45" fill="none"/>
<rect x="292.5" y="382.5" width="156.90" height="89.60" fill="#fff" stroke="#9c9c9c" stroke-width="1"/>
<circle cx="304.00" cy="391.00" r="1.9" fill="#121212"/>
<text x="315.00" y="394.00" text-anchor="start" font-size="12.9" textLength="61.2" lengthAdjust="spacingAndGlyphs" fill="#161616" color="#161616">Preparation</text>
<circle cx="304.00" cy="405.90" r="1.9" fill="#ec1a22"/>
<text x="315.00" y="408.90" text-anchor="start" font-size="12.9" textLength="21.4" lengthAdjust="spacingAndGlyphs" fill="#161616" color="#161616">Run</text>
<circle cx="304.00" cy="420.50" r="1.9" fill="#2b43a7"/>
<text x="315.00" y="423.50" text-anchor="start" font-size="12.9" textLength="29" lengthAdjust="spacingAndGlyphs" fill="#161616" color="#161616">Total</text>
<path d="M301.90 435.10H306.10M304.00 433.00V437.20" stroke="#121212" stroke-width="1.3" fill="none"/>
<text x="315.00" y="438.10" text-anchor="start" font-size="12.9" textLength="131.7" lengthAdjust="spacingAndGlyphs" fill="#161616" color="#161616">Preparation (with shape)</text>
<path d="M301.90 449.70H306.10M304.00 447.60V451.80" stroke="#ec1a22" stroke-width="1.3" fill="none"/>
<text x="315.00" y="452.70" text-anchor="start" font-size="12.9" textLength="91.2" lengthAdjust="spacingAndGlyphs" fill="#161616" color="#161616">Run (with shape)</text>
<path d="M301.90 464.40H306.10M304.00 462.30V466.50" stroke="#2b43a7" stroke-width="1.3" fill="none"/>
<text x="315.00" y="467.40" text-anchor="start" font-size="12.9" textLength="96.6" lengthAdjust="spacingAndGlyphs" fill="#161616" color="#161616">Total (with shape)</text>
<text x="116.50" y="252.20" text-anchor="middle" font-size="15.4" textLength="16.4" lengthAdjust="spacingAndGlyphs" fill="#1a1a1a" style="stroke:none">(<tspan font-weight="bold">a</tspan>)</text>
<text x="368.80" y="252.20" text-anchor="middle" font-size="15.4" textLength="16.4" lengthAdjust="spacingAndGlyphs" fill="#1a1a1a" style="stroke:none">(<tspan font-weight="bold">b</tspan>)</text>
<text x="116.40" y="543.30" text-anchor="middle" font-size="15.4" textLength="16.4" lengthAdjust="spacingAndGlyphs" fill="#1a1a1a" style="stroke:none">(<tspan font-weight="bold">c</tspan>)</text>
<text x="368.80" y="543.30" text-anchor="middle" font-size="15.4" textLength="16.4" lengthAdjust="spacingAndGlyphs" fill="#1a1a1a" style="stroke:none">(<tspan font-weight="bold">d</tspan>)</text>
</svg></body></html>
